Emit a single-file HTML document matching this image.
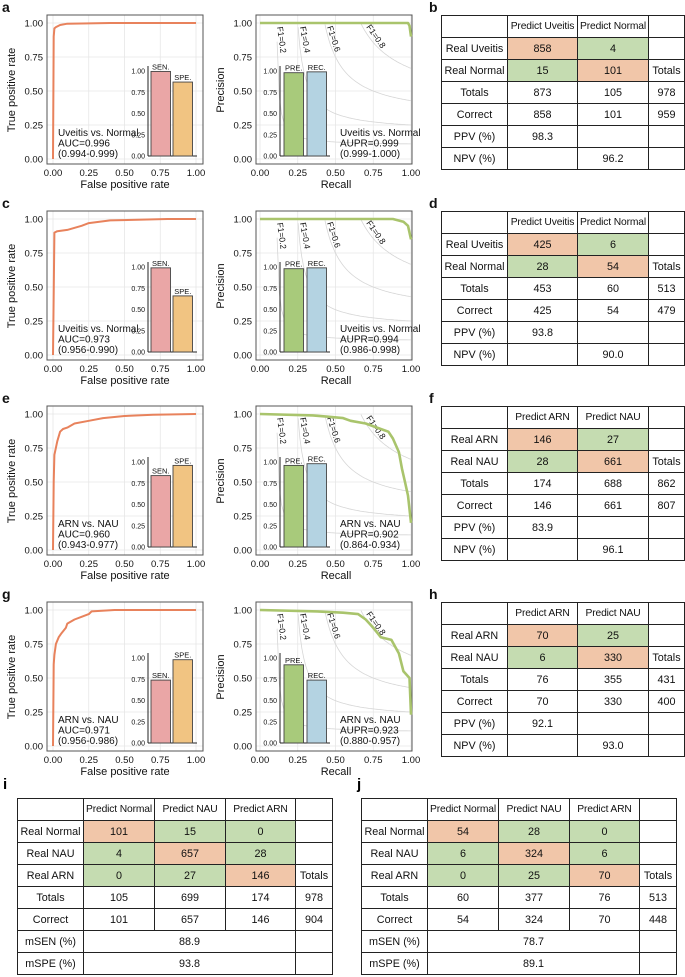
<!DOCTYPE html>
<html><head><meta charset="utf-8">
<style>
body{margin:0;width:685px;height:977px;background:#fff;position:relative;overflow:hidden;font-family:"Liberation Sans",Arial,sans-serif;}
svg{position:absolute;left:0;top:0;}
table{position:absolute;border-collapse:collapse;table-layout:fixed;font-size:10.8px;color:#111;}
td{border:1px solid #222;text-align:center;padding:0;white-space:nowrap;overflow:hidden;}
tr:first-child td{font-size:10.3px;letter-spacing:-0.15px;}
.o{background:#f1c6a9;}.g{background:#c5dcb1;}
.lab{position:absolute;font-weight:bold;font-size:15px;}
</style></head><body>
<svg id="fig" width="685" height="977"></svg>
<script>
// ---- data ----
const rocFpr=[[0,0.005,0.01,0.02,0.05,0.1,0.4,1],[0,0.01,0.03,0.1,0.2,0.25,0.4,0.8,1],[0,0.005,0.01,0.03,0.05,0.07,0.1,0.15,0.25,0.35,0.5,0.7,1],[0,0.005,0.01,0.02,0.04,0.06,0.09,0.1,0.15,0.2,0.25,0.27,0.43,1]];
const rocTpr=[[0,0.9,0.96,0.97,0.985,0.995,1,1],[0,0.9,0.91,0.92,0.95,0.97,0.99,1,1],[0,0.5,0.7,0.8,0.87,0.89,0.9,0.93,0.95,0.97,0.985,0.995,1],[0,0.6,0.67,0.75,0.8,0.83,0.87,0.9,0.93,0.95,0.97,0.99,1,1]];
const prRecall=[[0,0.98,0.99,1],[0,0.88,0.95,0.98,1],[0,0.35,0.45,0.55,0.6,0.7,0.8,0.85,0.88,0.92,0.94,0.96,0.98,1],[0,0.38,0.55,0.65,0.7,0.75,0.8,0.87,0.92,0.95,0.99,1]];
const prPrecision=[[1,1,0.98,0.9],[1,1,0.98,0.95,0.85],[1,0.99,0.98,0.97,0.95,0.93,0.89,0.87,0.82,0.72,0.6,0.5,0.4,0.2],[1,0.99,0.98,0.97,0.93,0.87,0.8,0.78,0.68,0.55,0.5,0.23]];
const senVals=[0.995,0.99,0.84,0.74];
const speVals=[0.87,0.66,0.96,0.98];
const preVals=[0.98,0.98,0.96,0.92];
const recVals=[0.99,0.99,0.98,0.74];
const comparisons=["Uveitis vs. Normal","Uveitis vs. Normal","ARN vs. NAU","ARN vs. NAU"];
const aucText=["AUC=0.996","AUC=0.973","AUC=0.960","AUC=0.971"];
const aucCI=["(0.994-0.999)","(0.956-0.990)","(0.943-0.977)","(0.956-0.986)"];
const auprText=["AUPR=0.999","AUPR=0.994","AUPR=0.902","AUPR=0.923"];
const auprCI=["(0.999-1.000)","(0.986-0.998)","(0.864-0.934)","(0.880-0.957)"];
const tickLabels=["0.00","0.25","0.50","0.75","1.00"];
const tickVals=[0,0.25,0.5,0.75,1];
const rowOffsets=[0,196,391,587];
const panelLetters=[["a","b"],["c","d"],["e","f"],["g","h"]];

const NS="http://www.w3.org/2000/svg";
const svg=document.getElementById('fig');
function mk(tag,attrs,parent){const e=document.createElementNS(NS,tag);for(const k in attrs)e.setAttribute(k,attrs[k]);(parent||svg).appendChild(e);return e;}
function txt(x,y,s,attrs,parent){const t=mk('text',Object.assign({x:x,y:y,'font-size':10,fill:'#111','font-family':'Liberation Sans, Arial, sans-serif'},attrs||{}),parent);t.textContent=s;return t;}

rowOffsets.forEach((oy,i)=>{
  const g=mk('g',{});
  
  
  const yS=v=>oy+159-v*136;
  const rx=v=>53+v*143, px=v=>260+v*151;
  let L=txt(2,oy+12,panelLetters[i][0],{'font-size':14,'font-weight':'bold'},g);
  
  
  L=txt(429,oy+12,panelLetters[i][1],{'font-size':14,'font-weight':'bold'},g);
  
  
  [[rx,47,'roc'],[px,256,'pr']].forEach(([sx,x0,kind])=>{
    const pg=mk('g',{},g);
    
    
    tickVals.forEach((v,k)=>{
      mk('line',{x1:sx(v),x2:sx(v),y1:oy+15,y2:oy+164,stroke:'#e6e6e6','stroke-width':0.8},pg);
      mk('line',{x1:x0,x2:x0+156,y1:yS(v),y2:yS(v),stroke:'#e6e6e6','stroke-width':0.8},pg);
      const tl=txt(sx(v),oy+176,tickLabels[k],{'text-anchor':'middle','font-size':9.5},pg);
      
      
      const yl=txt(x0-4,yS(v)+3.5,tickLabels[k],{'text-anchor':'end','font-size':9.5},pg);
      
      
    });
    if(kind==='pr'){
      [0.2,0.4,0.6,0.8].forEach((f,k)=>{
        let d='';const r0=f/(2-f)+0.002;
        for(let s=0;s<=60;s++){const r=r0+(1-r0)*s/60;const p=f*r/(2*r-f);d+=(s?'L':'M')+sx(r).toFixed(1)+','+yS(Math.min(p,1)).toFixed(1);}
        const c=mk('path',{d:d,fill:'none',stroke:'#d6d6d6','stroke-width':0.8},pg);
        
        
        const lx=[277,300,327,366][k],rot=[82,80,72,55][k];
        const t=txt(lx,oy+27,'F1='+f,{'font-size':8.5,transform:'rotate('+rot+' '+lx+' '+(oy+27)+')'},pg);
        
        
      });
    }
    const fr=mk('rect',{x:x0,y:oy+15,width:156,height:149,fill:'none',stroke:'#555','stroke-width':1},pg);
    
    
    const xs=kind==='roc'?rocFpr[i]:prRecall[i], ys=kind==='roc'?rocTpr[i]:prPrecision[i];
    let d='';xs.forEach((v,k)=>{d+=(k?'L':'M')+sx(v).toFixed(1)+','+yS(ys[k]).toFixed(1);});
    const cv=mk('path',{d:d,fill:'none',stroke:kind==='roc'?'#e8825c':'#a9c46c','stroke-width':kind==='roc'?2:2.6,'stroke-linejoin':'round'},pg);
    
    
    const xt=txt(kind==='roc'?125:336,oy+188,kind==='roc'?'False positive rate':'Recall',{'text-anchor':'middle','font-size':11},pg);
    
    
    const yx=kind==='roc'?15:224, yy=oy+90;
    const yt=txt(yx,yy,kind==='roc'?'True positive rate':'Precision',{'text-anchor':'middle','font-size':11,transform:'rotate(-90 '+yx+' '+yy+')'},pg);
    
    
    const ix=kind==='roc'?148:280, iw=kind==='roc'?49:50;
    const iy=v=>oy+156-v*85;
    const ig=mk('g',{},pg);
    
    
    mk('line',{x1:ix,x2:ix,y1:oy+66,y2:iy(0),stroke:'#222','stroke-width':1},ig);
    mk('line',{x1:ix,x2:ix+iw,y1:iy(0),y2:iy(0),stroke:'#222','stroke-width':1},ig);
    tickVals.forEach((v,k)=>{
      const tl=txt(ix-3,iy(v)+2.5,tickLabels[k],{'text-anchor':'end','font-size':7},ig);
      
      
    });
    const vals=kind==='roc'?[senVals[i],speVals[i]]:[preVals[i],recVals[i]];
    const names=kind==='roc'?['SEN.','SPE.']:['PRE.','REC.'];
    const cols=kind==='roc'?['#eaa6a6','#f1c482']:['#a8ca7b','#b4d3e2'];
    const bx=kind==='roc'?[151,173]:[284,307];
    vals.forEach((v,k)=>{
      const b=mk('rect',{x:bx[k],y:iy(v),width:19.5,height:iy(0)-iy(v),fill:cols[k],stroke:'#444','stroke-width':0.9},ig);
      
      
      const bl=txt(bx[k]+9.75,iy(v)-2,names[k],{'text-anchor':'middle','font-size':7.5},ig);
      
      
    });
    const ax=kind==='roc'?58:340;
    const a1=txt(ax,oy+136,comparisons[i],{'font-size':10},pg);
    
    
    const a2=txt(ax,oy+146.5,kind==='roc'?aucText[i]:auprText[i],{'font-size':10},pg);
    
    
    const a3=txt(ax,oy+157,kind==='roc'?aucCI[i]:auprCI[i],{'font-size':10},pg);
    
    
  });
});
</script>

<table style="left:441px;top:15px;width:243px;">
<colgroup><col style="width:66px"><col style="width:70px"><col style="width:71px"><col style="width:36px"></colgroup>
<tr style="height:22px"><td></td><td>Predict Uveitis</td><td>Predict Normal</td><td></td></tr>
<tr style="height:22px"><td>Real Uveitis</td><td class="o">858</td><td class="g">4</td><td></td></tr>
<tr style="height:22px"><td>Real Normal</td><td class="g">15</td><td class="o">101</td><td>Totals</td></tr>
<tr style="height:22px"><td>Totals</td><td>873</td><td>105</td><td>978</td></tr>
<tr style="height:22px"><td>Correct</td><td>858</td><td>101</td><td>959</td></tr>
<tr style="height:22px"><td>PPV (%)</td><td>98.3</td><td></td><td></td></tr>
<tr style="height:22px"><td>NPV (%)</td><td></td><td>96.2</td><td></td></tr>
</table>
<table style="left:441px;top:211px;width:243px;">
<colgroup><col style="width:66px"><col style="width:70px"><col style="width:71px"><col style="width:36px"></colgroup>
<tr style="height:22px"><td></td><td>Predict Uveitis</td><td>Predict Normal</td><td></td></tr>
<tr style="height:22px"><td>Real Uveitis</td><td class="o">425</td><td class="g">6</td><td></td></tr>
<tr style="height:22px"><td>Real Normal</td><td class="g">28</td><td class="o">54</td><td>Totals</td></tr>
<tr style="height:22px"><td>Totals</td><td>453</td><td>60</td><td>513</td></tr>
<tr style="height:22px"><td>Correct</td><td>425</td><td>54</td><td>479</td></tr>
<tr style="height:22px"><td>PPV (%)</td><td>93.8</td><td></td><td></td></tr>
<tr style="height:22px"><td>NPV (%)</td><td></td><td>90.0</td><td></td></tr>
</table>
<table style="left:441px;top:406px;width:243px;">
<colgroup><col style="width:66px"><col style="width:70px"><col style="width:71px"><col style="width:36px"></colgroup>
<tr style="height:22px"><td></td><td>Predict ARN</td><td>Predict NAU</td><td></td></tr>
<tr style="height:22px"><td>Real ARN</td><td class="o">146</td><td class="g">27</td><td></td></tr>
<tr style="height:22px"><td>Real NAU</td><td class="g">28</td><td class="o">661</td><td>Totals</td></tr>
<tr style="height:22px"><td>Totals</td><td>174</td><td>688</td><td>862</td></tr>
<tr style="height:22px"><td>Correct</td><td>146</td><td>661</td><td>807</td></tr>
<tr style="height:22px"><td>PPV (%)</td><td>83.9</td><td></td><td></td></tr>
<tr style="height:22px"><td>NPV (%)</td><td></td><td>96.1</td><td></td></tr>
</table>
<table style="left:441px;top:602px;width:243px;">
<colgroup><col style="width:66px"><col style="width:70px"><col style="width:71px"><col style="width:36px"></colgroup>
<tr style="height:22px"><td></td><td>Predict ARN</td><td>Predict NAU</td><td></td></tr>
<tr style="height:22px"><td>Real ARN</td><td class="o">70</td><td class="g">25</td><td></td></tr>
<tr style="height:22px"><td>Real NAU</td><td class="g">6</td><td class="o">330</td><td>Totals</td></tr>
<tr style="height:22px"><td>Totals</td><td>76</td><td>355</td><td>431</td></tr>
<tr style="height:22px"><td>Correct</td><td>70</td><td>330</td><td>400</td></tr>
<tr style="height:22px"><td>PPV (%)</td><td>92.1</td><td></td><td></td></tr>
<tr style="height:22px"><td>NPV (%)</td><td></td><td>93.0</td><td></td></tr>
</table>

<div class="lab" style="left:3px;top:776px;">i</div>
<div class="lab" style="left:357px;top:776px;">j</div>
<table style="left:17px;top:798px;width:315px;">
<colgroup><col style="width:66px"><col style="width:71px"><col style="width:71px"><col style="width:70px"><col style="width:37px"></colgroup>
<tr style="height:22px"><td></td><td>Predict Normal</td><td>Predict NAU</td><td>Predict ARN</td><td></td></tr>
<tr style="height:22px"><td>Real Normal</td><td class="o">101</td><td class="g">15</td><td class="g">0</td><td></td></tr>
<tr style="height:22px"><td>Real NAU</td><td class="g">4</td><td class="o">657</td><td class="g">28</td><td></td></tr>
<tr style="height:22px"><td>Real ARN</td><td class="g">0</td><td class="g">27</td><td class="o">146</td><td>Totals</td></tr>
<tr style="height:22px"><td>Totals</td><td>105</td><td>699</td><td>174</td><td>978</td></tr>
<tr style="height:22px"><td>Correct</td><td>101</td><td>657</td><td>146</td><td>904</td></tr>
<tr style="height:22px"><td>mSEN (%)</td><td colspan="3">88.9</td><td></td></tr>
<tr style="height:22px"><td>mSPE (%)</td><td colspan="3">93.8</td><td></td></tr>
</table>
<table style="left:361px;top:798px;width:315px;">
<colgroup><col style="width:66px"><col style="width:71px"><col style="width:71px"><col style="width:70px"><col style="width:37px"></colgroup>
<tr style="height:22px"><td></td><td>Predict Normal</td><td>Predict NAU</td><td>Predict ARN</td><td></td></tr>
<tr style="height:22px"><td>Real Normal</td><td class="o">54</td><td class="g">28</td><td class="g">0</td><td></td></tr>
<tr style="height:22px"><td>Real NAU</td><td class="g">6</td><td class="o">324</td><td class="g">6</td><td></td></tr>
<tr style="height:22px"><td>Real ARN</td><td class="g">0</td><td class="g">25</td><td class="o">70</td><td>Totals</td></tr>
<tr style="height:22px"><td>Totals</td><td>60</td><td>377</td><td>76</td><td>513</td></tr>
<tr style="height:22px"><td>Correct</td><td>54</td><td>324</td><td>70</td><td>448</td></tr>
<tr style="height:22px"><td>mSEN (%)</td><td colspan="3">78.7</td><td></td></tr>
<tr style="height:22px"><td>mSPE (%)</td><td colspan="3">89.1</td><td></td></tr>
</table>
</body></html>
